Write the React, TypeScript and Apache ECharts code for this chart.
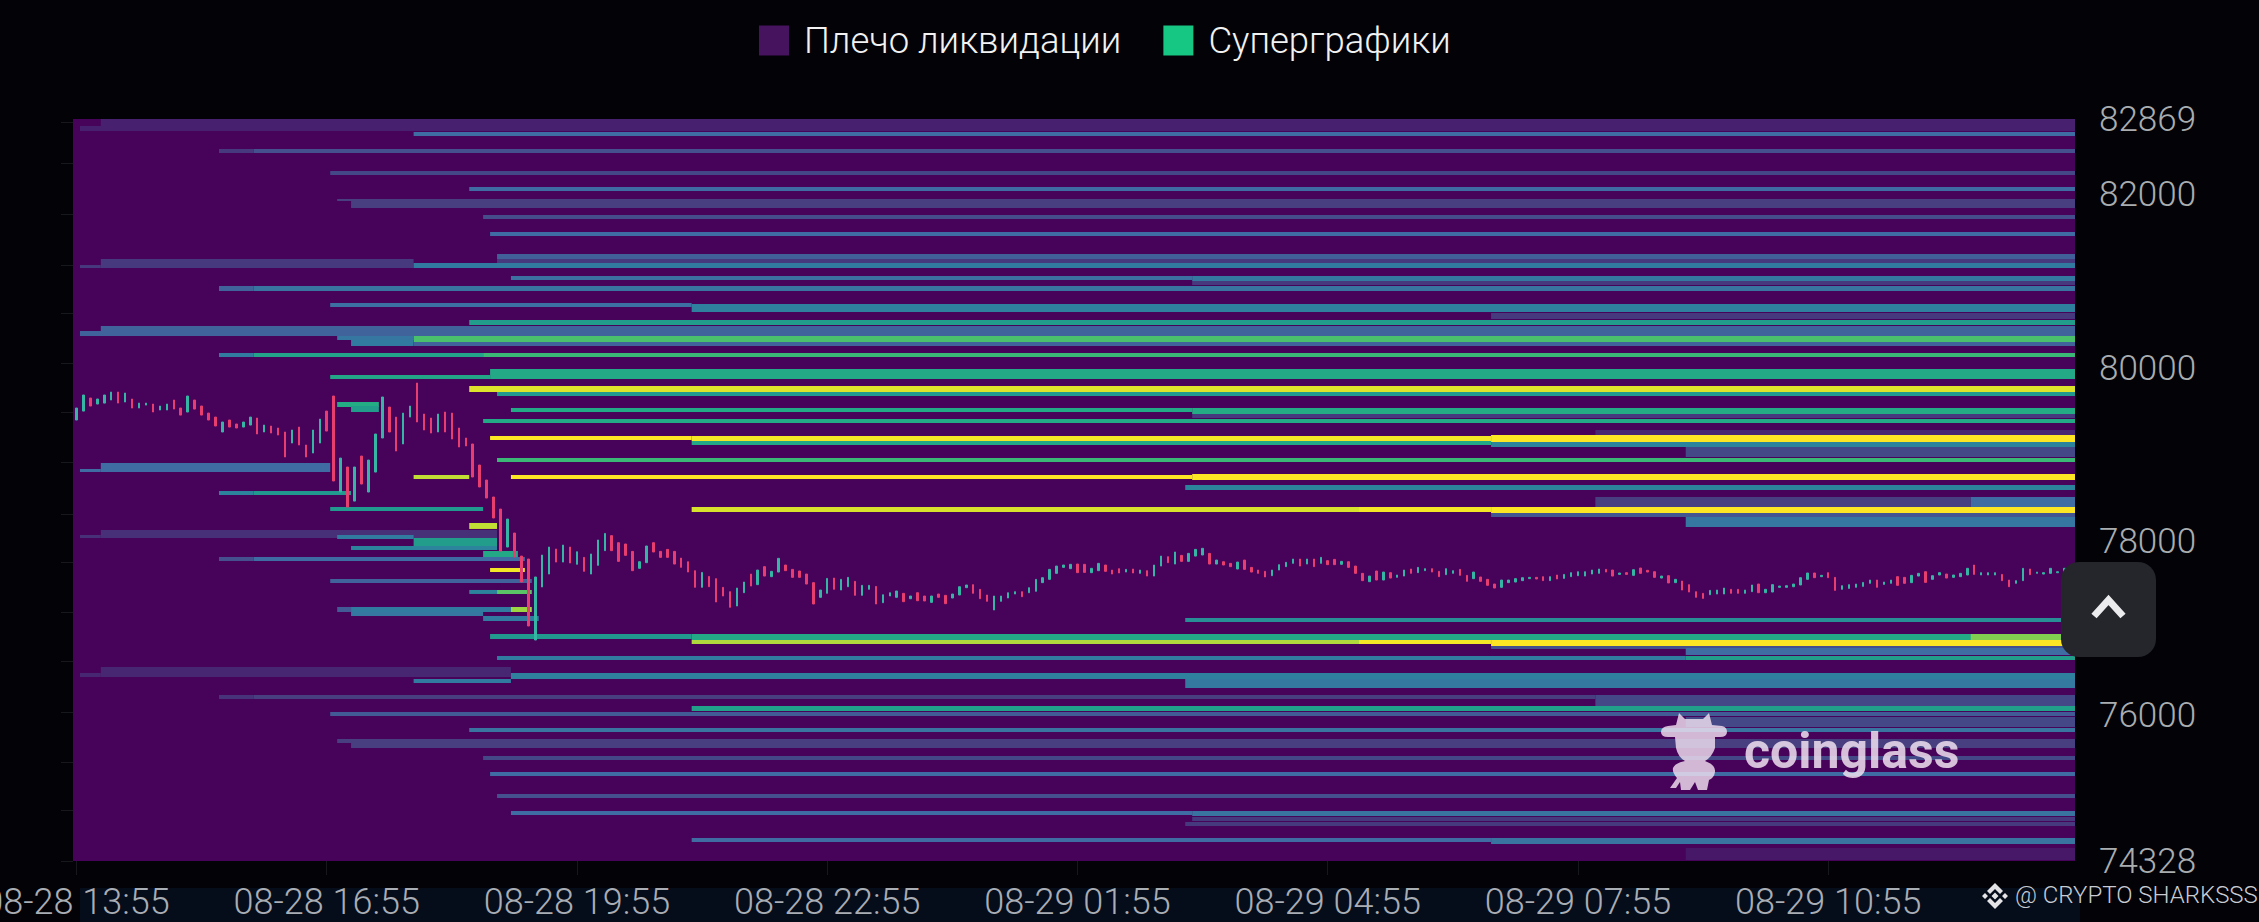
import React, { useEffect, useRef } from "react";
import * as echarts from "echarts";

const legendNames = ["Плечо ликвидации", "Суперграфики"];
const yLabelValues = [74328, 76000, 78000, 80000, 82000, 82869];
const leftTickValues = [82834, 82362, 81775, 81188, 80636, 80060, 79496, 78921, 78322, 77770, 77194, 76630, 76043, 75467, 74915, 74328];
const heatColors = ["#470259", "#47206f", "#473f80", "#3f6ca3", "#2f7f9f", "#21998e", "#24ad84", "#4bc06c", "#8fd14a", "#cfe02e", "#fde725"];

const timeLabels: string[] = [];
for (let i = 0, m = 13 * 60 + 55; i < 288; i++, m += 5) {
  const day = m >= 1440 ? "08-29" : "08-28";
  const t = m % 1440;
  timeLabels.push(`${day} ${String(Math.floor(t / 60)).padStart(2, "0")}:${String(t % 60).padStart(2, "0")}`);
}

// [open, close] per 5-minute candle
const candles = [
  [79404,79542],[79507,79692],[79657,79565],[79588,79646],[79599,79692],[79634,79726],[79726,79599],[79611,79715],[79646,79542],
  [79542,79599],[79576,79599],[79588,79496],[79519,79565],[79519,79588],[79634,79530],[79542,79461],[79496,79680],[79634,79530],
  [79565,79461],[79484,79404],[79438,79335],[79266,79381],[79404,79323],[79358,79312],[79323,79381],[79346,79438],[79427,79243],
  [79266,79346],[79335,79254],[79312,79231],[79266,78978],[79139,79289],[79323,79116],[79116,78978],[79024,79289],[79139,79415],
  [79507,79277],[79680,78702],[78575,78966],[78863,78402],[78471,78863],[78989,78667],[78575,78943],[78805,79243],[79197,79669],
  [79553,79266],[79438,79047],[79128,79484],[79438,79565],[79830,79381],[79473,79289],[79427,79254],[79266,79473],[79496,79266],
  [79484,79185],[79312,79093],[79197,79105],[79128,78748],[78886,78633],[78713,78506],[78518,78276],[78379,77896],[77942,78264],
  [78103,77827],[77838,77539],[77804,77033],[76872,77597],[77482,77850],[77631,77942],[77919,77769],[77769,77965],[77942,77758],
  [77743,77888],[77823,77662],[77631,77862],[77731,78023],[77900,78099],[78073,77900],[77992,77777],[77977,77846],[77892,77670],
  [77697,77773],[77762,77954],[77992,77885],[77892,77823],[77915,77823],[77892,77746],[77815,77708],[77773,77654],[77670,77478],
  [77478,77650],[77604,77485],[77578,77309],[77478,77378],[77428,77248],[77263,77470],[77416,77539],[77631,77493],[77509,77677],
  [77716,77608],[77601,77662],[77654,77812],[77735,77670],[77685,77593],[77666,77593],[77631,77516],[77532,77286],[77363,77447],
  [77409,77581],[77585,77455],[77447,77570],[77485,77593],[77547,77386],[77386,77501],[77455,77501],[77489,77286],[77301,77393],
  [77378,77416],[77363,77436],[77409,77313],[77347,77378],[77416,77324],[77378,77321],[77305,77378],[77401,77363],[77386,77290],
  [77355,77401],[77390,77485],[77474,77505],[77509,77409],[77455,77347],[77390,77317],[77217,77378],[77317,77378],[77355,77416],
  [77401,77428],[77428,77370],[77416,77474],[77432,77570],[77532,77589],[77570,77685],[77639,77723],[77708,77735],[77693,77743],
  [77746,77647],[77743,77650],[77647,77697],[77670,77754],[77735,77662],[77677,77631],[77693,77643],[77654,77685],[77689,77643],
  [77639,77677],[77670,77608],[77608,77735],[77723,77838],[77831,77762],[77746,77885],[77846,77777],[77777,77869],[77838,77915],
  [77850,77927],[77869,77746],[77746,77792],[77773,77735],[77754,77716],[77689,77769],[77792,77685],[77708,77654],[77677,77639],
  [77662,77597],[77612,77677],[77677,77739],[77716,77766],[77754,77804],[77804,77723],[77746,77804],[77804,77716],[77754,77823],
  [77785,77739],[77800,77739],[77743,77777],[77773,77708],[77723,77639],[77639,77555],[77543,77608],[77666,77562],[77562,77654],
  [77647,77585],[77593,77620],[77608,77677],[77689,77639],[77647,77708],[77670,77693],[77693,77654],[77662,77601],[77624,77693],
  [77639,77670],[77685,77616],[77616,77547],[77578,77654],[77597,77547],[77570,77501],[77516,77470],[77478,77562],[77532,77562],
  [77539,77578],[77555,77589],[77578,77593],[77593,77574],[77601,77555],[77555,77601],[77620,77574],[77581,77627],[77601,77647],
  [77612,77658],[77608,77658],[77631,77677],[77639,77689],[77685,77654],[77677,77608],[77627,77643],[77647,77627],[77616,77681],
  [77700,77639],[77674,77654],[77658,77593],[77585,77608],[77612,77528],[77532,77570],[77551,77447],[77509,77424],[77428,77363],
  [77409,77351],[77393,77443],[77401,77447],[77401,77470],[77455,77409],[77455,77409],[77409,77447],[77428,77505],[77516,77416],
  [77416,77455],[77424,77509],[77478,77493],[77478,77497],[77485,77516],[77505,77589],[77570,77643],[77643,77589],[77601,77616],
  [77647,77589],[77593,77443],[77455,77497],[77466,77509],[77478,77516],[77489,77535],[77524,77562],[77562,77478],[77512,77539],
  [77524,77562],[77601,77501],[77593,77524],[77532,77616],[77608,77639],[77658,77535],[77570,77612],[77620,77647],[77631,77585],
  [77593,77620],[77601,77639],[77620,77697],[77735,77627],[77620,77647],[77620,77647],[77620,77647],[77627,77555],[77562,77485],
  [77524,77555],[77555,77697],[77689,77624],[77639,77654],[77631,77647],[77639,77697],[77646,77658],[77654,77697],[77670,77697],
];

// [first candle, last candle, price low, price high, intensity 0-100]
const upperBands = [
  [4,287,82788,82869,10],[1,287,82731,82788,10],[49,287,82673,82719,30],[21,25,82478,82524,18],[26,287,82478,82524,24],
  [37,287,82224,82270,22],[57,287,82040,82086,30],[38,287,81925,81948,20],[40,287,81845,81925,20],[59,287,81718,81764,23],
  [60,287,81522,81568,30],[61,287,81257,81315,27],[61,287,81211,81257,18],[1,3,81154,81188,18],[4,48,81154,81257,18],
  [49,287,81154,81211,38],[63,160,81016,81062,32],[161,287,81004,81062,37],[161,287,80958,81004,18],[21,25,80889,80947,28],
  [26,287,80889,80947,34],[37,88,80705,80751,32],[89,287,80647,80739,40],[204,287,80567,80636,18],[57,287,80498,80555,52],
  [4,287,80429,80486,28],[1,287,80371,80429,28],[38,48,80325,80371,36],[49,287,80302,80371,70],[40,48,80256,80325,38],
  [49,287,80256,80302,28],[21,25,80129,80175,38],[26,58,80129,80175,55],[59,287,80129,80175,66],[37,59,79876,79922,56],
  [60,287,79876,79991,58],[57,287,79727,79796,93],[61,287,79681,79727,50],
];
const middleBands = [
  [38,43,79554,79611,60],[40,43,79496,79565,52],[63,160,79496,79542,58],[161,287,79473,79542,60],[161,287,79427,79473,18],
  [59,287,79370,79416,58],[219,287,79232,79289,12],[60,88,79174,79220,100],[89,203,79163,79220,98],[89,203,79116,79163,58],
  [204,287,79093,79151,42],[204,287,79151,79232,100],[232,287,78978,79093,22],[61,287,78921,78967,66],[49,56,78725,78771,88],[63,160,78725,78771,100],
  [161,287,78714,78783,100],[160,287,78599,78656,42],[219,272,78403,78518,20],[273,287,78403,78518,30],[89,184,78345,78403,92],
  [185,203,78345,78403,98],[204,287,78334,78403,100],[204,287,78288,78334,25],[232,287,78173,78288,36],
];
const clusterBands = [
  [1,3,78806,78840,30],[4,36,78806,78909,30],[21,25,78541,78587,42],[26,39,78541,78587,50],[37,58,78357,78403,50],
  [57,60,78150,78219,88],[1,3,78046,78081,15],[4,60,78046,78138,15],[38,48,78035,78081,38],[49,60,77954,78046,52],
  [40,60,77908,77954,42],[59,63,77827,77896,58],[21,25,77781,77827,24],[26,64,77781,77827,30],[60,64,77655,77701,98],
  [37,65,77528,77574,28],[57,60,77402,77448,42],[61,65,77402,77448,72],[38,39,77194,77252,26],[40,62,77194,77252,38],
  [63,65,77194,77252,82],[40,58,77148,77194,36],[59,66,77091,77148,38],
];
const lowerBands = [
  [160,287,77079,77125,46],[60,88,76883,76941,50],[89,287,76872,76941,58],[273,287,76872,76941,78],[204,287,76768,76803,24],
  [89,184,76826,76872,85],[185,203,76826,76872,98],[204,287,76803,76872,100],[232,287,76699,76780,30],[61,231,76642,76688,38],
  [232,287,76642,76688,52],[1,3,76446,76492,12],[4,62,76446,76561,12],[63,287,76423,76492,40],[49,62,76377,76423,38],
  [160,287,76319,76423,37],[21,25,76193,76239,16],[26,218,76193,76239,20],[219,287,76112,76239,22],[89,287,76055,76112,54],
  [37,287,75997,76043,26],[232,287,75870,75985,22],[57,287,75813,75859,34],[38,287,75686,75732,20],[40,287,75628,75686,20],
  [59,287,75490,75536,22],[60,287,75306,75352,30],[61,287,75053,75099,24],[63,160,74857,74903,30],[161,287,74846,74903,34],
  [161,287,74788,74834,18],[160,287,74731,74777,18],[89,203,74547,74593,30],[204,287,74524,74593,34],[232,287,74339,74478,7],
];

const MASCOT = "M1679 713 L1685 719 L1703 719 L1709 713 L1712 725 L1722 726 Q1727 727 1727 732 Q1727 737 1720 737 L1715 737 L1715 748 Q1712 757 1705 761 Q1716 765 1715 772 Q1714 778 1709 780 L1707 790 L1698 790 L1695 782 L1690 790 L1681 790 L1680 782 L1676 788 L1670 788 L1677 778 Q1672 772 1673 768 Q1675 763 1685 761 Q1678 757 1676 748 L1675 737 L1668 737 Q1661 737 1661 732 Q1661 727 1668 726 L1676 725 Z";
const BINANCE = "M1995 883 L2003 891 L2000 894 L1995 889 L1990 894 L1987 891 Z M1995 909 L2003 901 L2000 898 L1995 903 L1990 898 L1987 901 Z M1982 896 L1985 893 L1988 896 L1985 899 Z M2008 896 L2005 893 L2002 896 L2005 899 Z M1995 892.5 L1998.5 896 L1995 899.5 L1991.5 896 Z";
echarts.graphic.registerShape("mascot", echarts.graphic.extendPath(MASCOT, {}));
echarts.graphic.registerShape("binance", echarts.graphic.extendPath(BINANCE, {}));

const FONT = "Roboto";

export default function App() {
  const ref = useRef<HTMLDivElement>(null);
  useEffect(() => {
    document.body.style.margin = "0";
    document.body.style.background = "#020207";
    const chart = echarts.init(ref.current!, undefined, { renderer: "svg" });
    const bands = [...upperBands, ...middleBands, ...clusterBands, ...lowerBands];
    chart.setOption({
      animation: false,
      backgroundColor: "#020207",
      legend: {
        left: 754,
        top: 17,
        icon: "rect",
        itemWidth: 30,
        itemHeight: 30,
        itemGap: 42,
        selectedMode: false,
        textStyle: { color: "#f2f2f2", fontFamily: FONT, fontSize: 36.5, fontWeight: 300, padding: [0, 0, 0, 10] },
        data: [
          { name: legendNames[0], itemStyle: { color: "#46135f", borderWidth: 0 } },
          { name: legendNames[1], itemStyle: { color: "#16c784", borderWidth: 0 } },
        ],
      },
      grid: { left: 73, right: 184, top: 119, height: 742, show: true, backgroundColor: "#470259", borderWidth: 0, outerBoundsMode: "none" },
      xAxis: {
        type: "category",
        data: timeLabels,
        axisLine: { show: false },
        axisTick: { show: true, alignWithLabel: true, interval: 35, length: 14, lineStyle: { color: "#17171e" } },
        axisLabel: {
          interval: 35,
          margin: 23,
          color: "#a9adb4",
          fontFamily: FONT,
          fontWeight: 300,
          fontSize: 36,
          hideOverlap: false,
          showMinLabel: true,
        },
        splitLine: { show: false },
      },
      yAxis: [
        {
          type: "value",
          position: "right",
          min: 74328,
          max: 82869,
          axisLine: { show: false },
          axisTick: { show: false },
          splitLine: { show: false },
          axisLabel: {
            customValues: yLabelValues,
            margin: 24,
            color: "#a9adb0",
            fontFamily: FONT,
            fontWeight: 300,
            fontSize: 35,
            formatter: (v: number) => String(v),
          },
        },
        {
          type: "value",
          position: "left",
          min: 74328,
          max: 82869,
          axisLine: { show: false },
          splitLine: { show: false },
          axisLabel: { show: false },
          axisTick: { show: true, customValues: leftTickValues, length: 12, lineStyle: { color: "#17171e" } },
        },
      ],
      visualMap: { show: false, seriesIndex: 0, dimension: 4, min: 0, max: 100, inRange: { color: heatColors } },
      series: [
        {
          name: legendNames[0],
          type: "custom",
          data: bands,
          dimensions: ["first", "last", "low", "high", "intensity"],
          encode: { x: [0, 1], y: [2, 3] },
          clip: true,
          itemStyle: { color: "#46135f" },
          renderItem: (_: any, api: any) => {
            const a = api.coord([api.value(0), api.value(3)]);
            const b = api.coord([api.value(1), api.value(2)]);
            const w = api.size([1, 0])[0];
            return {
              type: "rect",
              shape: { x: a[0] - w / 2, y: a[1], width: b[0] - a[0] + w, height: b[1] - a[1] },
              style: { fill: api.visual("color") },
            };
          },
        },
        {
          name: legendNames[1],
          type: "candlestick",
          barWidth: 2,
          data: candles.map(([o, c]) => [o, c, Math.min(o, c), Math.max(o, c)]),
          itemStyle: { color: "#35b5a3", color0: "#e83d6f", borderColor: "#35b5a3", borderColor0: "#e83d6f", borderWidth: 1 },
          z: 5,
        },
      ],
      graphic: [
        { type: "rect", z: -10, shape: { x: 80, y: 888, width: 2000, height: 34 }, style: { fill: "#050c1a" } },
        { type: "mascot", x: 0, y: 0, z: 50, style: { fill: "rgba(240,225,240,0.82)" } },
        {
          type: "text",
          x: 1744,
          y: 726,
          z: 50,
          style: { text: "coinglass", fill: "rgba(240,225,240,0.85)", font: `bold 50px ${FONT}` },
        },
        {
          type: "rect",
          z: 60,
          shape: { x: 2061, y: 562, width: 95, height: 95, r: 18 },
          style: { fill: "#24262b" },
        },
        {
          type: "polyline",
          z: 61,
          shape: { points: [[2094, 616], [2108.5, 600], [2123, 616]] },
          style: { stroke: "#ececee", lineWidth: 7, fill: "none" },
        },
        { type: "binance", x: 0, y: 0, z: 60, style: { fill: "#e4e4e6" } },
        {
          type: "text",
          x: 2015,
          y: 883,
          z: 60,
          style: { text: "@ CRYPTO SHARKSSS", fill: "#c8ccd2", font: `300 24px ${FONT}` },
        },
      ],
    });
    return () => chart.dispose();
  }, []);
  return <div ref={ref} style={{ position: "absolute", left: 0, top: 0, width: 2259, height: 922 }} />;
}
